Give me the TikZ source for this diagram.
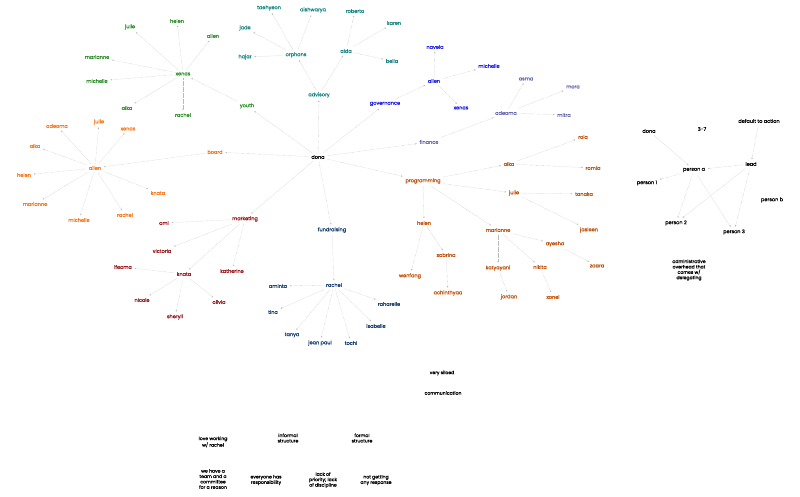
\documentclass[tikz,border=0pt]{standalone}
\usepackage{fontspec}
\setmainfont{Poppins}[FakeBold=0.7]
\usetikzlibrary{arrows.meta}
\definecolor{cyouth}{RGB}{45,140,40}
\definecolor{cadv}{RGB}{20,130,130}
\definecolor{cgov}{RGB}{25,25,230}
\definecolor{cfin}{RGB}{100,100,170}
\definecolor{cprog}{RGB}{190,80,10}
\definecolor{cboard}{RGB}{250,115,20}
\definecolor{cmkt}{RGB}{150,20,25}
\definecolor{cfund}{RGB}{20,60,110}
\definecolor{clink}{RGB}{185,185,185}
\tikzset{
  nd/.style={font=\fontsize{5}{6}\selectfont, inner sep=2.5pt},
  note/.style={nd, align=center, font=\fontsize{4.6}{5.4}\selectfont},
  lnk/.style={-{Stealth[length=1.8pt,width=1.5pt]}, clink, dash pattern=on 0.4pt off 0.8pt, line width=0.35pt},
  yth/.style={nd, text=cyouth},
  adv/.style={nd, text=cadv},
  gov/.style={nd, text=cgov},
  fin/.style={nd, text=cfin},
  prg/.style={nd, text=cprog},
  brd/.style={nd, text=cboard},
  mkt/.style={nd, text=cmkt},
  fnd/.style={nd, text=cfund},
}
\begin{document}
\begin{tikzpicture}[x=1pt, y=-1pt]
        \useasboundingbox (0,0) rectangle (800,497);
        \node[nd] (dona) at (318,157) {dona};
        % youth
        \node[yth] (youth) at (247,106) {youth};
        \node[yth] (g-xenas) at (183,74) {xenas};
        \node[yth] (g-julie) at (130,27) {julie};
        \node[yth] (g-helen) at (177,21) {helen};
        \node[yth] (g-allen) at (213,36) {allen};
        \node[yth] (g-marianne) at (97,57) {marianne};
        \node[yth] (g-michelle) at (97,81) {michelle};
        \node[yth] (g-aika) at (127,108) {aika};
        \node[yth] (g-rachel) at (183,115) {rachel};
        % advisory
        \node[adv] (advisory) at (319,95) {advisory};
        \node[adv] (orphans) at (296,55) {orphans};
        \node[adv] (t-aida) at (346,51) {aida};
        \node[adv] (taehyeon) at (269,8) {taehyeon};
        \node[adv] (aishwarya) at (313,10) {aishwarya};
        \node[adv] (jade) at (245,28) {jade};
        \node[adv] (hajar) at (245,57) {hajar};
        \node[adv] (roberto) at (355,11) {roberto};
        \node[adv] (karen) at (394,23) {karen};
        \node[adv] (bella) at (392,61) {bella};
        % governance
        \node[gov] (governance) at (385,104) {governance};
        \node[gov] (b-allen) at (434,81) {allen};
        \node[gov] (navela) at (435,47) {navela};
        \node[gov] (b-michelle) at (489,66) {michelle};
        \node[gov] (b-xenas) at (461,108) {xenas};
        % finance
        \node[fin] (finance) at (429,142) {finance};
        \node[fin] (adeoma) at (506,113) {adeoma};
        \node[fin] (asma) at (526,79) {asma};
        \node[fin] (mora) at (573,87) {mora};
        \node[fin] (mitra) at (564,115) {mitra};
        % programming
        \node[prg] (programming) at (423,181) {programming};
        \node[prg] (p-aika) at (509,164) {aika};
        \node[prg] (rola) at (583,137) {rola};
        \node[prg] (romia) at (593,168) {romia};
        \node[prg] (p-julie) at (514,193) {julie};
        \node[prg] (tanaka) at (584,194) {tanaka};
        \node[prg] (jasleen) at (589,230) {jasleen};
        \node[prg] (p-helen) at (424,223) {helen};
        \node[prg] (wenfang) at (410,276) {wenfang};
        \node[prg] (sabrina) at (446,255) {sabrina};
        \node[prg] (achinthyaa) at (448,293) {achinthyaa};
        \node[prg] (p-marianne) at (498,230) {marianne};
        \node[prg] (ayesha) at (555,244) {ayesha};
        \node[prg] (zaara) at (597,266) {zaara};
        \node[prg] (katyayani) at (498,268) {katyayani};
        \node[prg] (jordan) at (509,297) {jordan};
        \node[prg] (nikita) at (540,267) {nikita};
        \node[prg] (xonel) at (553,297) {xonel};
        % board
        \node[brd] (board) at (215,152) {board};
        \node[brd] (o-allen) at (95,168) {allen};
        \node[brd] (o-adeoma) at (57,126) {adeoma};
        \node[brd] (o-julie) at (99,122) {julie};
        \node[brd] (o-xenas) at (128,129) {xenas};
        \node[brd] (o-aika) at (35,146) {aika};
        \node[brd] (o-helen) at (24,175) {helen};
        \node[brd] (o-knata) at (158,193) {knata};
        \node[brd] (o-marianne) at (35,204) {marianne};
        \node[brd] (o-michelle) at (79,220) {michelle};
        \node[brd] (o-rachel) at (125,215) {rachel};
        % marketing
        \node[mkt] (marketing) at (245,219) {marketing};
        \node[mkt] (omi) at (164,223) {omi};
        \node[mkt] (victoria) at (162,251) {victoria};
        \node[mkt] (m-knata) at (184,274) {knata};
        \node[mkt] (katherine) at (232,271) {katherine};
        \node[mkt] (ifeoma) at (123,267) {ifeoma};
        \node[mkt] (nicole) at (142,300) {nicole};
        \node[mkt] (sheryll) at (175,317) {sheryll};
        \node[mkt] (olivia) at (219,302) {olivia};
        % fundraising
        \node[fnd] (fundraising) at (332,230) {fundraising};
        \node[fnd] (f-rachel) at (334,285) {rachel};
        \node[fnd] (aminta) at (278,286) {aminta};
        \node[fnd] (tina) at (273,312) {tina};
        \node[fnd] (tanya) at (292,335) {tanya};
        \node[fnd] (jeanpaul) at (320,343) {jean paul};
        \node[fnd] (tochi) at (351,343) {tochi};
        \node[fnd] (isabelle) at (376,326) {isabelle};
        \node[fnd] (raharelle) at (389,304) {raharelle};
        % right cluster
        \node[nd] (r-dona) at (649,131) {dona};
        \node[nd] (three-seven) at (702,129) {3-7};
        \node[nd] (default) at (759,121) {default to action};
        \node[nd] (lead) at (751,164) {lead};
        \node[nd] (person-a) at (694,170) {person a};
        \node[nd] (person-1) at (647,183) {person 1};
        \node[nd] (person-b) at (772,200) {person b};
        \node[nd] (person-2) at (676,223) {person 2};
        \node[nd] (person-3) at (734,232) {person 3};
        \node[note] (admin) at (689,270) {administrative\\overhead that\\comes w/\\delegating};
        % loose notes
        \node[note] (siloed) at (442,373) {very siloed};
        \node[note] (comm) at (443,393) {communication};
        \node[note] (love) at (213,442) {love working\\w/ rachel};
        \node[note] (informal) at (288,438) {informal\\structure};
        \node[note] (formal) at (362,438) {formal\\structure};
        \node[note] (team) at (213,479) {we have a\\team and a\\committee\\for a reason};
        \node[note] (everyone) at (266,480) {everyone has\\responsibility};
        \node[note] (lack) at (323,480) {lack of\\priority; lack\\of discipline};
        \node[note] (noresp) at (376,480) {not getting\\any response};
        % links
        \foreach \a/\b in {dona/youth, dona/advisory, dona/governance, dona/finance,
            dona/programming, dona/fundraising, dona/marketing, dona/board,
            youth/g-xenas, g-xenas/g-julie, g-xenas/g-helen, g-xenas/g-allen,
            g-xenas/g-marianne, g-xenas/g-michelle, g-xenas/g-aika, g-xenas/g-rachel,
            advisory/orphans, advisory/t-aida, orphans/taehyeon, orphans/aishwarya,
            orphans/jade, orphans/hajar, t-aida/roberto, t-aida/karen, t-aida/bella,
            governance/b-allen, b-allen/navela, b-allen/b-michelle, b-allen/b-xenas,
            finance/adeoma, adeoma/asma, adeoma/mora, adeoma/mitra,
            programming/p-aika, programming/p-julie, programming/p-helen, programming/p-marianne,
            p-aika/rola, p-aika/romia, p-julie/tanaka, p-julie/jasleen,
            p-helen/wenfang, p-helen/sabrina, sabrina/achinthyaa,
            p-marianne/ayesha, p-marianne/katyayani, p-marianne/nikita,
            ayesha/zaara, katyayani/jordan, nikita/xonel,
            board/o-allen, o-allen/o-adeoma, o-allen/o-julie, o-allen/o-xenas, o-allen/o-aika,
            o-allen/o-helen, o-allen/o-knata, o-allen/o-marianne, o-allen/o-michelle, o-allen/o-rachel,
            marketing/omi, marketing/victoria, marketing/m-knata, marketing/katherine,
            m-knata/ifeoma, m-knata/nicole, m-knata/sheryll, m-knata/olivia,
            fundraising/f-rachel, f-rachel/aminta, f-rachel/tina, f-rachel/tanya,
            f-rachel/jeanpaul, f-rachel/tochi, f-rachel/isabelle, f-rachel/raharelle,
            r-dona/person-a, lead/person-a, default/lead, person-a/person-1,
            person-a/person-2, person-a/person-3, lead/person-2, lead/person-3}
          \draw[lnk] (\a) -- (\b);
      \end{tikzpicture}
\end{document}
